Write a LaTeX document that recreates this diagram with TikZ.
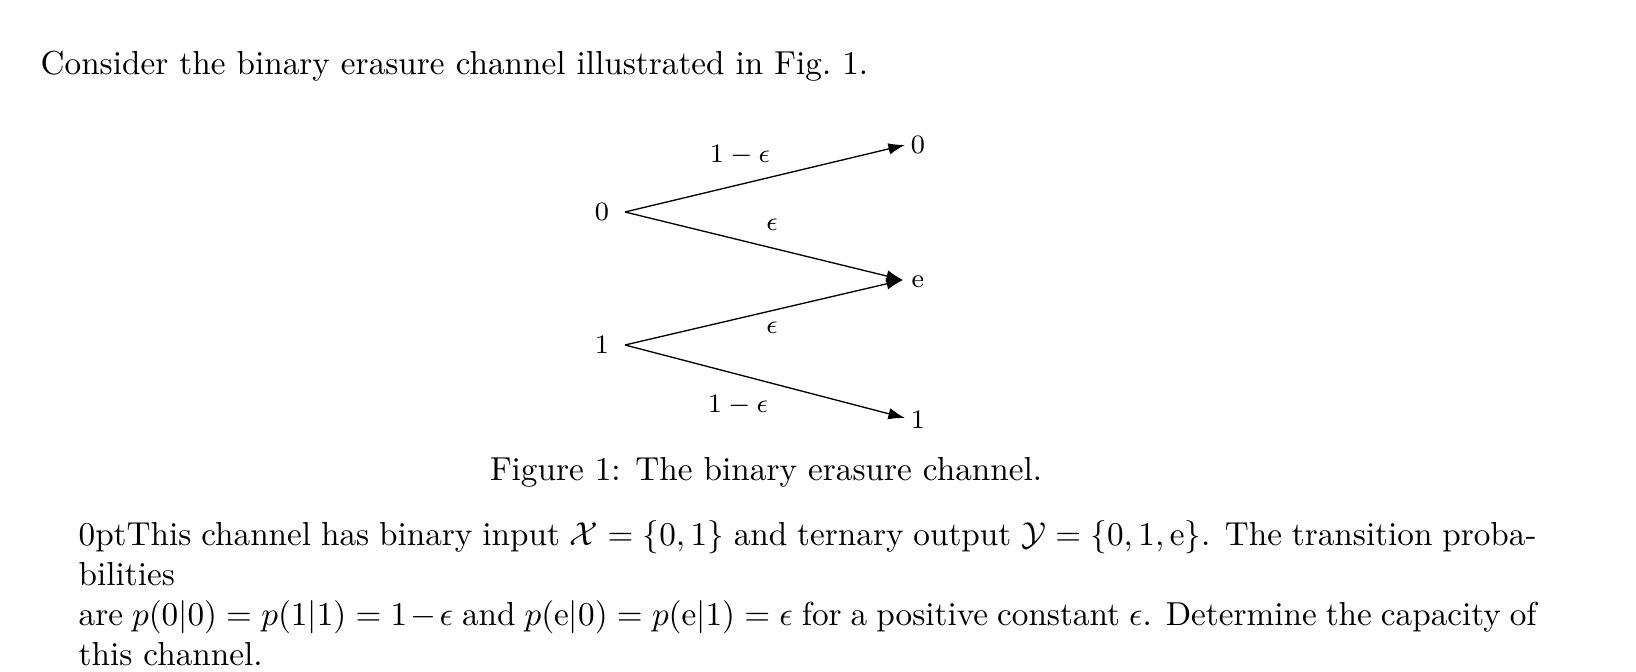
\documentclass[tikz,border=0pt]{standalone}
\usepackage{amsmath,amssymb}
\usetikzlibrary{arrows.meta}
\tikzset{chan/.style={line width=0.4pt,-{Latex[length=5pt,width=3.5pt]}},
 lbl/.style={font=\footnotesize,inner sep=1pt},
 para/.style={anchor=north west,inner sep=0pt,align=justify}}
\begin{document}
\begin{tikzpicture}[x=0.301pt,y=-0.301pt]
\useasboundingbox (0,0) rectangle (1636,672);
\node[anchor=base west,inner sep=0pt] (top) at (40,75) {Consider the binary erasure channel illustrated in Fig.~1.};
\coordinate (i0) at (625,212);
\coordinate (i1) at (625,345);
\coordinate (o0) at (905,145);
\coordinate (oe) at (903,280);
\coordinate (o1) at (905,418);
\node[lbl] (l0) at (602,212) {0};
\node[lbl] (l1) at (602,345) {1};
\node[lbl] (r0) at (918,145) {0};
\node[lbl] (re) at (918,282) {e};
\node[lbl] (r1) at (918,420) {1};
\draw[chan] (i0) -- (o0);
\draw[chan] (i0) -- (oe);
\draw[chan] (i1) -- (oe);
\draw[chan] (i1) -- (o1);
\node[lbl] (a) at (740,155) {$1-\epsilon$};
\node[lbl] (b) at (772,225) {$\epsilon$};
\node[lbl] (c) at (772,328) {$\epsilon$};
\node[lbl] (d) at (738,405) {$1-\epsilon$};
\node[anchor=base,inner sep=0pt] (cap) at (766,481) {Figure 1: The binary erasure channel.};
\node[para,text width=1458*0.301pt,font=\hyphenpenalty=10000\relax] (p) at (78,520) {This channel has binary input $\mathcal{X}=\{0,1\}$ and ternary output $\mathcal{Y}=\{0,1,\mathrm{e}\}$. The transition probabilities\linebreak are $p(0|0)=p(1|1)=1-\epsilon$ and $p(\mathrm{e}|0)=p(\mathrm{e}|1)=\epsilon$ for a positive constant $\epsilon$. Determine the capacity of\linebreak this channel.};
\end{tikzpicture}
\end{document}
